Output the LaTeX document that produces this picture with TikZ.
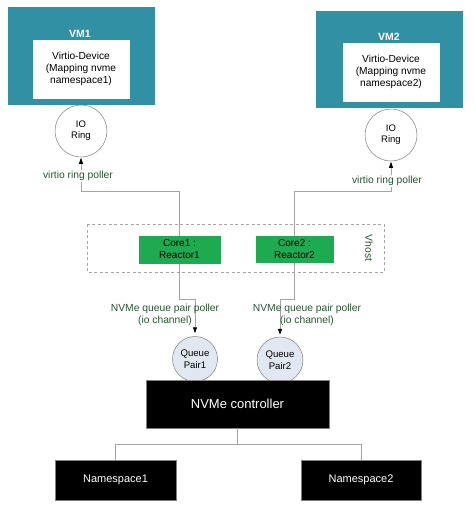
\documentclass[tikz,border=0pt]{standalone}
\usepackage{fontspec}
\setmainfont{Liberation Sans}
\usetikzlibrary{arrows.meta}
\definecolor{vmteal}{RGB}{50,144,165}
\definecolor{coregreen}{RGB}{30,170,80}
\definecolor{lblgreen}{RGB}{40,85,50}
\definecolor{conngray}{RGB}{165,165,165}
\definecolor{qpfill}{RGB}{226,232,242}
\tikzset{
  vmbox/.style={draw=vmteal,fill=vmteal,minimum width=146pt,minimum height=97pt,inner sep=0pt},
  devbox/.style={draw=white,fill=white,minimum width=96pt,minimum height=58pt,inner sep=0pt,align=center,font=\fontsize{10.2}{11.8}\selectfont},
  vmlabel/.style={text=white,font=\fontsize{10.5}{12}\selectfont\bfseries,inner sep=0pt},
  ring/.style={circle,draw=gray,fill=white,line width=0.5pt,minimum size=52pt,inner sep=0pt,align=center,font=\fontsize{9.5}{11}\selectfont},
  corebox/.style={draw=coregreen,fill=coregreen,minimum height=26pt,inner sep=0pt,align=center,font=\fontsize{10}{12}\selectfont},
  qp/.style={circle,draw=gray,fill=qpfill,line width=0.5pt,minimum size=45pt,inner sep=0pt,align=center,font=\fontsize{9.6}{11.5}\selectfont},
  blackbox/.style={draw=gray,fill=black,text=white,inner sep=0pt},
  lbl/.style={text=lblgreen,font=\fontsize{10.3}{12}\selectfont,inner sep=1pt,align=center},
  conn/.style={draw=conngray,line width=0.7pt},
  tip/.style={-{Triangle[width=4pt,length=6pt,color=black]}},
}
\begin{document}
\begin{tikzpicture}[x=1pt,y=-1pt]
\useasboundingbox (0,0) rectangle (474,515);
% Vhost
\draw[conngray,dashed,dash pattern=on 3pt off 2.5pt,line width=0.6pt] (87,224) rectangle (384,272);
\node[lbl,rotate=-90] (vhost) at (369,248) {Vhost};
% VMs
\node[vmbox] (vm1) at (81,55.5) {};
\node[vmlabel] (vm1l) at (80,34) {VM1};
\node[devbox] (dev1) at (81,69) {Virtio-Device\\(Mapping nvme\\namespace1)};
\node[vmbox,minimum height=96pt] (vm2) at (389,59) {};
\node[vmlabel] (vm2l) at (389,37) {VM2};
\node[devbox] (dev2) at (391,72) {Virtio-Device\\(Mapping nvme\\namespace2)};
% rings
\node[ring] (ring1) at (81,131) {IO\\Ring};
\node[ring] (ring2) at (391,135) {IO\\Ring};
% queue pairs
\node[qp] (qp1) at (195,359) {Queue\\Pair1};
\node[qp,minimum size=46pt] (qp2) at (280,360) {Queue\\Pair2};
% coordinates
\coordinate (b1) at (81,191);
\coordinate (b2) at (391,191);
\coordinate (d1) at (195,299);
\coordinate (d2) at (280,299);
% connectors (behind cores)
\draw[conn,tip,shorten >=0.5pt] (179.5,249.5) |- (b1) -- (ring1.south);
\draw[conn,tip,shorten >=0.5pt] (294.5,249) |- (b2) -- (ring2.south);
\draw[conn,tip,shorten >=3pt] (179.5,249.5) |- (d1) -- (qp1.north);
\draw[conn,tip,shorten >=2pt] (294.5,249) |- (d2) -- (qp2.north);
% cores
\node[corebox,minimum width=81pt,minimum height=27pt] (core1) at (179.5,249.5) {Core1 :\\Reactor1};
\node[corebox,minimum width=77pt] (core2) at (294.5,249) {Core2 :\\Reactor2};
% labels
\node[lbl,fill=white] (l1) at (78,176) {virtio ring poller};
\node[lbl,fill=white] (l2) at (387,181) {virtio ring poller};
\node[lbl] (l3) at (165,315) {NVMe queue pair poller\\(io channel)};
\node[lbl] (l4) at (307,315) {NVMe queue pair poller\\(io channel)};
% NVMe controller and namespaces
\node[blackbox,minimum width=183pt,minimum height=48pt,font=\fontsize{13}{15}\selectfont] (nvme) at (237.5,404) {NVMe controller};
\node[blackbox,minimum width=121pt,minimum height=40pt,font=\fontsize{11}{13}\selectfont] (ns1) at (115.5,480) {Namespace1};
\node[blackbox,minimum width=120pt,minimum height=40pt,font=\fontsize{11}{13}\selectfont] (ns2) at (361,480) {Namespace2};
\coordinate (t) at (237.5,444);
\draw[conn] (nvme.south) -- (t) -| (ns1.north);
\draw[conn] (t) -| (ns2.north);
\end{tikzpicture}
\end{document}
